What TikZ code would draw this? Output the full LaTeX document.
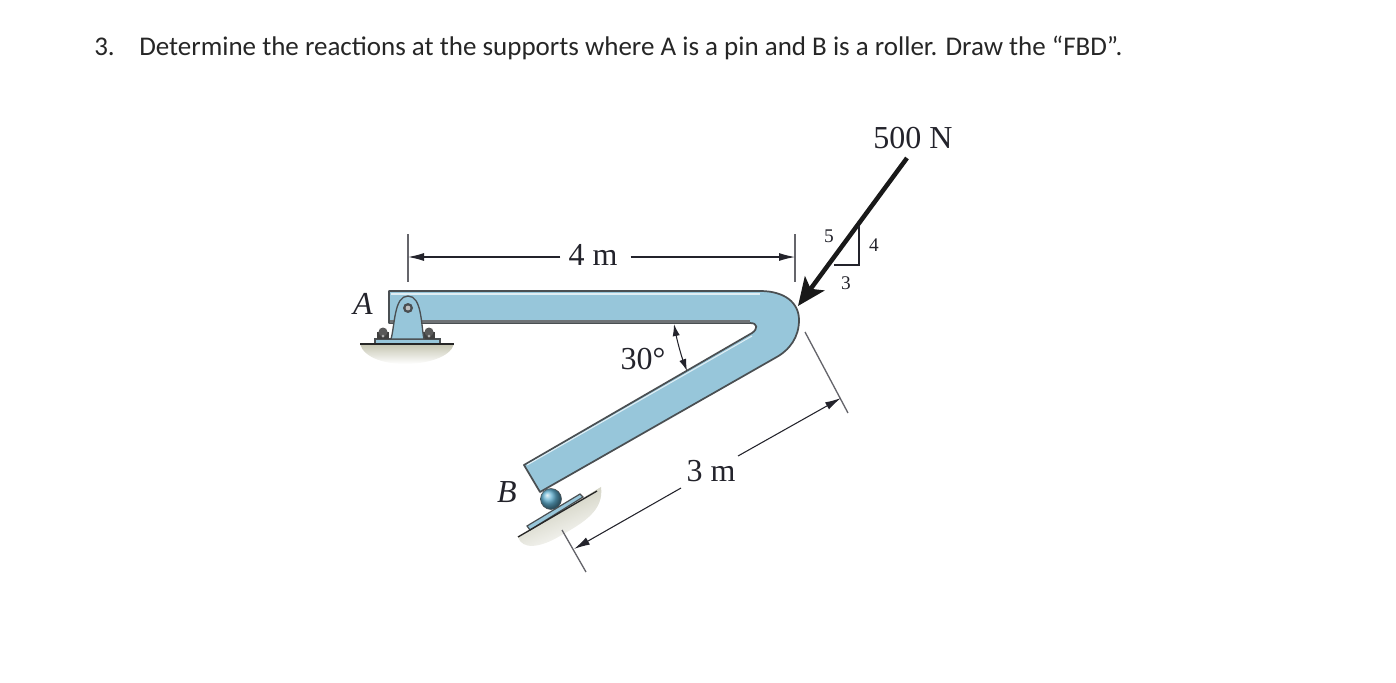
\documentclass[tikz,border=0pt]{standalone}
\usepackage{fontspec}
\setmainfont{Liberation Serif}
\newfontfamily\titlefont{Carlito}
\usetikzlibrary{arrows.meta,fadings,shadings}
\definecolor{beam}{HTML}{97C6DA}
\definecolor{edgeg}{HTML}{4A4F52}
\definecolor{ink}{HTML}{23232B}
\definecolor{groundc}{HTML}{C4C4B0}
\definecolor{ballc}{HTML}{5FAFD0}
\tikzset{
  lbl/.style={inner sep=0pt,text=ink,font=\fontsize{24}{24}\selectfont},
  smalllbl/.style={inner sep=0pt,text=ink,font=\fontsize{14.5}{15}\selectfont},
  ital/.style={inner sep=0pt,text=ink,font=\fontsize{24}{24}\selectfont\itshape},
  title/.style={inner sep=0pt,anchor=base west,text=black!85,font=\titlefont\fontsize{20.25}{21}\selectfont},
  tick/.style={draw=ink!70,line width=1pt},
  dim/.style={draw=ink,line width=0.8pt,-{Latex[length=12pt,width=6pt]}},
  beamedge/.style={draw=edgeg,line width=1.3pt,line join=round},
}
\begin{document}
\begin{tikzpicture}[x=0.75pt,y=-0.75pt]
\useasboundingbox (0,0) rectangle (1396,682);
% title
\node[title] (num) at (94,55) {3.};
\node[title] (ttl) at (139,55) {Determine the reactions at the supports where A is a pin and B is a roller. Draw the “FBD”.};
% ground shadows
\fill[groundc,path fading=south] (360,344) -- (454,344) .. controls (450,358) and (425,364) .. (405,364) .. controls (385,364) and (364,358) .. (360,344) -- cycle;
\fill[groundc,path fading=south,fading angle=30] (601,487) -- (518,537) .. controls (522,550) and (540,548) .. (560,536) .. controls (585,522) and (604,510) .. (601,487) -- cycle;
% beam
\path[fill=beam,beamedge]
  (389,291) -- (760,291) .. controls (785,291) and (799,303) .. (799,320)
  .. controls (799,337) and (790,350) .. (775,358)
  -- (540,492) -- (524,465)
  -- (752,333) .. controls (758,329) and (758,323) .. (750,323)
  -- (389,323) -- cycle;
\draw[edgeg!80,line width=2pt] (390,321.5) -- (750,321.5);
\draw[white!70!beam,line width=0.8pt] (391,294) -- (760,294);
\draw[white!70!beam,line width=0.8pt] (527,465) -- (752,336);
% pin support A
\path[fill=beam,draw=edgeg,line width=0.9pt] (375,339) rectangle (440,344);
\foreach \bx in {383,429}{
  \fill[black!75] (\bx-6,339) rectangle (\bx+6,332);
  \fill[black!65] (\bx,332) circle (4.5);
  \fill[white!70!black] (\bx,336) circle (1.5);
}
\path[fill=beam,draw=edgeg,line width=1pt] (391,339) .. controls (395,325) and (394,296) .. (408,296)
  .. controls (422,296) and (421,325) .. (424,339) -- cycle;
\fill[edgeg] (408,308) circle (5);
\fill[black!25] (408,308) circle (2.4);
\draw[black!85,line width=1pt] (360,344) -- (454,344);
% roller support B
\path[fill=beam,draw=edgeg,line width=0.9pt] (527,526) -- (580,494) -- (583,497) -- (530,530) -- cycle;
\draw[black!85,line width=1pt] (518,537) -- (597,491);
\shade[ball color=ballc,draw=edgeg] (551,499) circle (10.5);
% labels
\node[ital] (A) at (363,304) {A};
\node[ital] (B) at (507,492) {B};
\node[lbl] (l4) at (593,255) {4 m};
\node[lbl] (l3) at (711,471) {3 m};
\node[lbl] (l30) at (643,359) {30°};
\node[lbl] (l500) at (913,138) {500 N};
\node[smalllbl] (s5) at (829,236) {5};
\node[smalllbl] (s4) at (874,245) {4};
\node[smalllbl] (s3) at (846,283) {3};
% 4 m dimension
\coordinate (t1a) at (408,234); \coordinate (t1b) at (408,282);
\coordinate (t2a) at (795,234); \coordinate (t2b) at (795,282);
\coordinate (e1) at (408,257); \coordinate (e2) at (795,257);
\draw[tick] (t1a) -- (t1b);
\draw[tick] (t2a) -- (t2b);
\draw[dim] (l4.west) ++(-8,2) coordinate (s1) -- (e1);
\draw[dim] (l4.east) ++(13,2) coordinate (s2) -- (e2);
% 3 m dimension
\coordinate (t3a) at (805,332); \coordinate (t3b) at (848,413);
\coordinate (t4a) at (562,530); \coordinate (t4b) at (586,572);
\coordinate (e3) at (841,398); \coordinate (e4) at (574,549);
\coordinate (s3a) at (738,456); \coordinate (s4a) at (681,488);
\draw[tick] (t3a) -- (t3b);
\draw[tick] (t4a) -- (t4b);
\draw[dim] (s3a) -- (e3);
\draw[dim] (s4a) -- (e4);
% 30 deg arc
\coordinate (ang1) at (674,324); \coordinate (ang2) at (687,371);
\draw[draw=ink,line width=0.8pt,{Latex[length=9pt,width=5.5pt]}-{Latex[length=9pt,width=5.5pt]}] (ang1) .. controls (677,340) and (681,355) .. (ang2);
% force
\coordinate (ftail) at (907,158); \coordinate (ftip) at (798,306);
\draw[black!90,line width=3.4pt,-{Stealth[length=21pt,width=18pt,inset=5pt]}] (ftail) -- (ftip);
% slope triangle
\coordinate (tr1) at (859,226); \coordinate (tr2) at (859,265); \coordinate (tr3) at (834,265);
\draw[draw=ink,line width=0.8pt] (tr1) -- (tr2) -- (tr3);
\end{tikzpicture}
\end{document}
